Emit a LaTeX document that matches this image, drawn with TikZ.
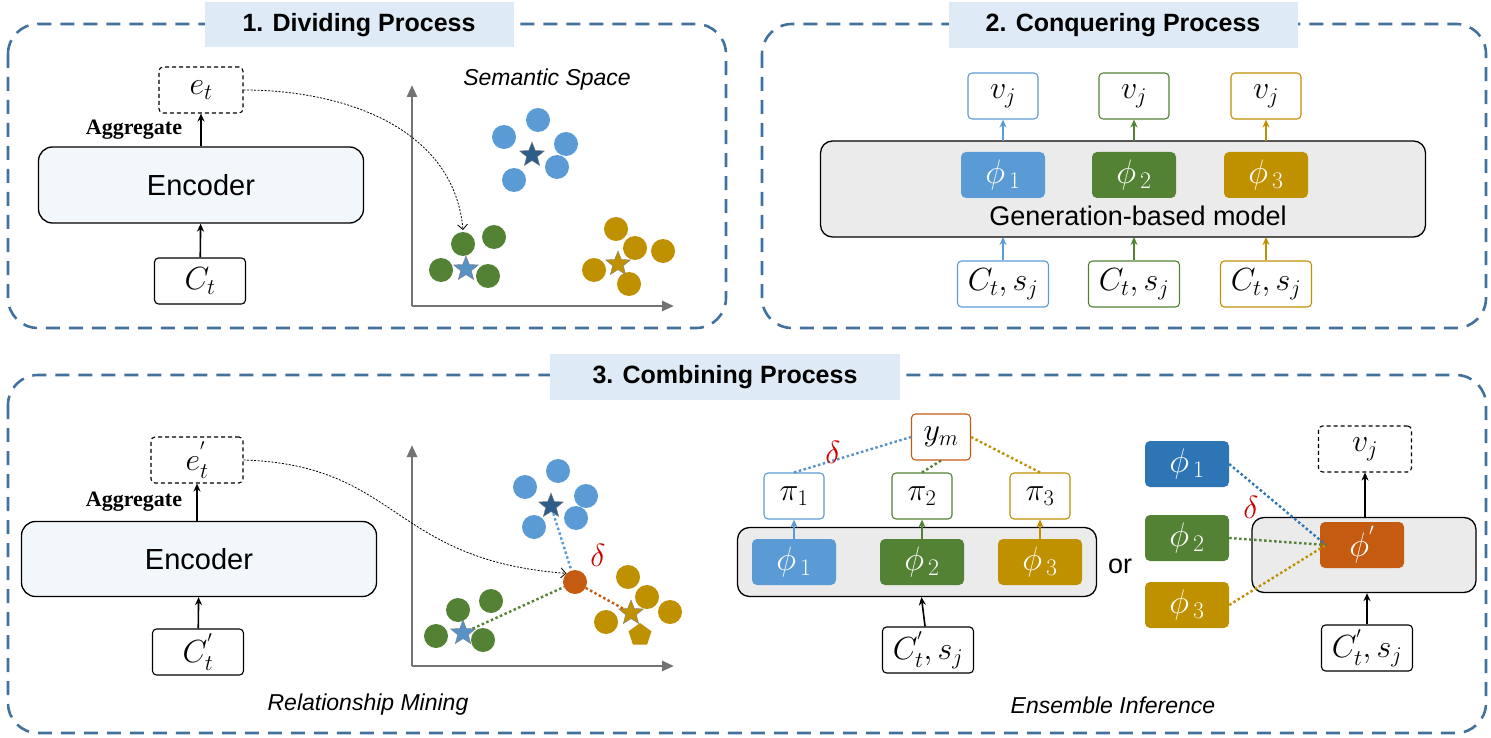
\RequirePackage{fix-cm}
\documentclass[tikz,border=0pt]{standalone}
\usepackage{fontspec}
\setmainfont{Liberation Sans}
\newfontfamily\serifbf{Liberation Serif}
\usetikzlibrary{shapes.geometric,arrows.meta}
\definecolor{cblue}{HTML}{5B9BD5}
\definecolor{cdblue}{HTML}{2E75B6}
\definecolor{cgreen}{HTML}{548235}
\definecolor{cgold}{HTML}{BF9000}
\definecolor{corange}{HTML}{C55A11}
\definecolor{cframe}{HTML}{41719C}
\definecolor{ctitle}{HTML}{DEEBF7}
\definecolor{cstar}{HTML}{2F5D8A}
\begin{document}
\begin{tikzpicture}[x=1pt,y=-1pt,>={Stealth[length=8pt,width=7pt]}]
\tikzset{
  panel/.style={draw=cframe,line width=2.6pt,dash pattern=on 14pt off 9pt,rounded corners=30pt},
  title/.style={fill=ctitle,inner sep=0,font=\fontsize{25}{28}\selectfont\bfseries},
  box/.style={draw,rounded corners=4pt,fill=white,minimum width=#1,minimum height=46pt,inner sep=0,font=\fontsize{32}{34}\selectfont,line width=1.1pt},
  box/.default=91pt,
  dbox/.style={box=#1,dash pattern=on 4pt off 3pt},
  model/.style={draw,rounded corners=12pt,fill=black!8,line width=1.3pt},
  enc/.style={draw,rounded corners=14pt,fill=cblue!8,line width=1.3pt,font=\fontsize{29}{31}\selectfont},
  phi/.style={fill=#1,rounded corners=5pt,minimum width=84pt,minimum height=46pt,inner sep=0,text=white,font=\fontsize{34}{36}\selectfont},
  dot/.style={circle,fill=#1,minimum size=24pt,inner sep=0},
  starn/.style={star,star points=5,star point ratio=2.3,fill=#1,draw=black!50,line width=0.4pt,minimum size=26pt,inner sep=0},
  link/.style={->,line width=1.6pt},
  axis/.style={-{Triangle[length=12pt,width=10pt]},line width=2.6pt,black!55},
  dline/.style={#1,line width=2.4pt,dash pattern=on 2.5pt off 2.5pt},
  curv/.style={-{Straight Barb[length=5pt]},dash pattern=on 2pt off 1.5pt,line width=0.8pt},
  lab/.style={font=\fontsize{23}{25}\selectfont\itshape},
  agg/.style={font=\fontsize{22}{24}\selectfont\serifbf\bfseries},
  delta/.style={text=red!80!black,font=\fontsize{32}{34}\selectfont}
}
\useasboundingbox (0,0) rectangle (1491,738);
% panels
\draw[panel] (8,24) rectangle (726,328);
\draw[panel] (762,24) rectangle (1486,328);
\draw[panel] (8,375) rectangle (1486,733);
\node[title,minimum width=309pt,minimum height=45pt] (t1) at (359,25) {1. Dividing Process};
\node[title,minimum width=349pt,minimum height=46pt] (t2) at (1123,25) {2. Conquering Process};
\node[title,minimum width=350pt,minimum height=46pt] (t3) at (725,377) {3. Combining Process};

% 1. dividing
\node[enc,minimum width=325pt,minimum height=76pt] (enc1) at (201,185) {Encoder};
\node[dbox=84pt] (e1) at (201,90) {$e_t$};
\node[box] (c1) at (200,281) {$C_t$};
\draw[link] (c1) -- (enc1);
\draw[link] (enc1) -- (e1);
\node[agg] (a1) at (134,130) {Aggregate};
\node[lab] (ss) at (547,80) {Semantic Space};
\coordinate (o1) at (412,306);
\draw[axis] (o1) -- (412,85);
\draw[axis] (o1) -- (674,306);
\foreach \p in {(538,120),(504,137),(566,144),(557,167),(514,180)} \node[dot=cblue] at \p {};
\foreach \p in {(463,244),(494,237),(441,270),(488,276)} \node[dot=cgreen] at \p {};
\foreach \p in {(616,229),(635,248),(663,251),(594,270),(629,284)} \node[dot=cgold] at \p {};
\node[starn=cstar] (sb1) at (532,155) {};
\node[starn=cdblue!80] (sg1) at (466,269) {};
\node[starn=cgold] (sy1) at (618,264) {};
\coordinate (g1) at (463,230);
\draw[curv] (e1.east) to[out=0,in=95] (g1);

% 2. conquering
\node[model,minimum width=605pt,minimum height=96pt] (gen) at (1123,189) {};
\node[font=\fontsize{27}{29}\selectfont] (gl) at (1138,216) {Generation-based model};
\foreach \i/\x/\c in {1/1003/cblue,2/1134/cgreen,3/1266/cgold}{
  \node[phi=\c] (p\i) at (\x,175) {$\phi_{\,\i}$};
  \node[box=70pt,draw=\c] (v\i) at (\x,96) {$v_j$};
  \node[box,draw=\c] (in\i) at (\x,284) {$C_t,s_j$};
  \draw[link,\c] (in\i.north) -- (\x,237);
  \draw[link,\c] (\x,141) -- (v\i.south);
}

% 3. combining - relationship mining
\node[enc,minimum width=355pt,minimum height=75pt] (enc3) at (199,559) {Encoder};
\node[dbox=92pt] (e3) at (197,460) {$e_t^{'}$};
\node[box] (c3) at (198,652) {$C_t^{'}$};
\draw[link] (c3) -- (enc3);
\draw[link] (enc3.north -| e3) -- (e3);
\node[agg] (a3) at (134,502) {Aggregate};
\coordinate (o3) at (412,666);
\draw[axis] (o3) -- (412,445);
\draw[axis] (o3) -- (674,666);
\foreach \p in {(558,471),(525,487),(586,496),(576,518),(534,527)} \node[dot=cblue] at \p {};
\foreach \p in {(458,610),(491,601),(436,636),(483,640)} \node[dot=cgreen] at \p {};
\foreach \p in {(628,577),(647,597),(670,612),(606,622)} \node[dot=cgold] at \p {};
\node[regular polygon,regular polygon sides=5,fill=cgold,minimum size=24pt,inner sep=0] (pg) at (640,635) {};
\node[dot=corange] (q) at (575,582) {};
\node[starn=cstar] (sb3) at (551,506) {};
\node[starn=cdblue!80] (sg3) at (463,633) {};
\node[starn=cgold] (sy3) at (631,613) {};
\draw[dline=cblue] (sb3) -- (q);
\draw[dline=cgreen] (sg3) -- (q);
\draw[dline=corange] (q) -- (sy3);
\node[delta] (d1) at (598,555) {$\delta$};
\draw[curv] (e3.east) .. controls (400,465) and (390,560) .. (q.north west);
\node[lab] (rm) at (368,705) {Relationship Mining};

% 3. combining - ensemble inference
\node[model,minimum width=359pt,minimum height=69pt] (ens) at (917,562) {};
\node[box=59pt,draw=corange] (ym) at (941,437) {$y_m$};
\foreach \i/\x/\c in {1/794/cblue,2/922/cgreen,3/1040/cgold}{
  \node[phi=\c] (q\i) at (\x,562) {$\phi_{\,\i}$};
  \node[box=60pt,draw=\c] (pi\i) at (\x,496) {$\pi_{\i}$};
  \draw[link,\c] (q\i.north) -- (pi\i.south);
}
\draw[dline=cdblue!80] (pi1.north) -- (ym.west);
\draw[dline=cgreen] (ym.south) -- (pi2.north);
\draw[dline=cgold] (ym.east) -- (pi3.north);
\node[delta] (d2) at (833,452) {$\delta$};
\node[box] (c4) at (928,650) {$C_t^{'},s_j$};
\draw[link] (c4) -- (ens);
\node[font=\fontsize{27}{29}\selectfont] (or) at (1120,566) {or};
\node[model,minimum width=224pt,minimum height=75pt] (ens2) at (1364,555) {};
\node[phi=corange] (pp) at (1362,545) {$\phi^{'}$};
\node[phi=cdblue] (r1) at (1187,464) {$\phi_{\,1}$};
\node[phi=cgreen] (r2) at (1187,538) {$\phi_{\,2}$};
\node[phi=cgold] (r3) at (1187,605) {$\phi_{\,3}$};
\coordinate (pw) at (1326,545);
\draw[dline=cdblue] (r1.east) -- (pw);
\draw[dline=cgreen] (r2.east) -- (pw);
\draw[dline=cgold] (r3.east) -- (pw);
\node[delta] (d3) at (1251,507) {$\delta$};
\node[dbox=93pt] (v4) at (1365,449) {$v_j$};
\node[box] (c5) at (1367,648) {$C_t^{'},s_j$};
\draw[link] (ens2.north -| v4) -- (v4);
\draw[link] (c5) -- (ens2.south -| c5);
\node[lab] (ei) at (1113,705) {Ensemble Inference};
\end{tikzpicture}
\end{document}
